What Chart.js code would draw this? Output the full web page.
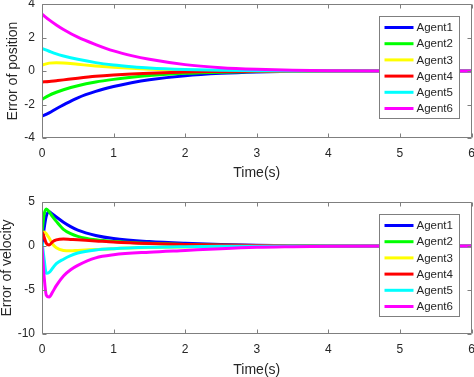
<!DOCTYPE html>
<html><head><meta charset="utf-8">
<script src="https://cdn.jsdelivr.net/npm/chart.js@4"></script>
<style>
html,body{margin:0;padding:0;background:#fff;overflow:hidden;width:474px;height:377px;}
canvas{position:absolute;left:0;}
#c1{top:0}
#c2{top:185px}
</style></head><body>
<canvas id="c1" width="474" height="188"></canvas>
<canvas id="c2" width="474" height="199"></canvas>
<script>
const agentNames = ['Agent1','Agent2','Agent3','Agent4','Agent5','Agent6'];
const agentColors = ['#0000ff','#00ff00','#ffff00','#ff0000','#00ffff','#ff00ff'];

const xTicks = [0,1,2,3,4,5,6];
const posTicks = [-4,-2,0,2,4];
const velTicks = [-10,-5,0,5];

const posTime = [0,0.1,0.2,0.3,0.5,0.75,1,1.25,1.5,2,2.5,3,3.5,4,5,6];
const posAgent1 = [-2.7,-2.5,-2.25,-2.02,-1.6,-1.22,-0.93,-0.7,-0.52,-0.28,-0.14,-0.06,-0.02,0,0,0];
const posAgent2 = [-1.7,-1.45,-1.27,-1.12,-0.88,-0.66,-0.5,-0.37,-0.27,-0.14,-0.07,-0.03,-0.01,0,0,0];
const posAgent3 = [0.35,0.47,0.5,0.48,0.4,0.3,0.22,0.16,0.11,0.05,0.02,0.01,0,0,0,0];
const posAgent4 = [-0.65,-0.63,-0.58,-0.53,-0.43,-0.32,-0.24,-0.18,-0.13,-0.06,-0.03,-0.01,0,0,0,0];
const posAgent5 = [1.35,1.18,1.02,0.9,0.7,0.5,0.36,0.26,0.18,0.09,0.04,0.02,0,0,0,0];
const posAgent6 = [3.4,3.05,2.75,2.48,2.02,1.58,1.2,0.92,0.7,0.38,0.2,0.1,0.04,0.01,0,0];

const velTime = [0,0.03,0.06,0.1,0.15,0.2,0.3,0.4,0.5,0.75,1,1.5,2,2.5,3,3.5,4,5,6];
const velAgent1 = [0,2.0,3.4,3.9,3.6,3.3,2.7,2.2,1.8,1.2,0.85,0.5,0.3,0.17,0.08,0.03,0,0,0];
const velAgent2 = [1.5,3.6,4.2,3.9,3.3,2.8,1.9,1.4,1.1,0.7,0.5,0.3,0.17,0.09,0.05,0.02,0,0,0];
const velAgent3 = [1.2,1.6,1.4,0.9,0.2,-0.2,-0.5,-0.55,-0.5,-0.4,-0.3,-0.18,-0.1,-0.06,-0.03,-0.01,0,0,0];
const velAgent4 = [1.6,1.0,0.3,0.1,0.5,0.7,0.8,0.75,0.7,0.58,0.45,0.28,0.17,0.1,0.05,0.02,0,0,0];
const velAgent5 = [0.5,-1.5,-3.1,-3.0,-2.5,-2.0,-1.5,-1.1,-0.8,-0.45,-0.3,-0.15,-0.08,-0.04,-0.02,-0.01,0,0,0];
const velAgent6 = [0,-3.5,-5.6,-5.8,-5.2,-4.5,-3.4,-2.7,-2.2,-1.35,-1.0,-0.7,-0.5,-0.3,-0.15,-0.08,-0.03,0,0];

const FONT = "'Liberation Sans', Arial, Helvetica, sans-serif";
const TEXT = '#262626';
const LINE = '#7f7f7f';

const boxPlugin = {
  id: 'matlabBox',
  afterDatasetsDraw(chart) {
    const ctx = chart.ctx, a = chart.chartArea;
    const xs = chart.scales.x, ys = chart.scales.y;
    ctx.save();
    ctx.strokeStyle = LINE; ctx.lineWidth = 1;
    ctx.beginPath();
    const L = Math.round(a.left)+0.5, R = Math.round(a.right)-0.5, T = Math.round(a.top)+0.5, B = Math.round(a.bottom)-0.5;
    ctx.rect(L, T, R-L, B-T);
    xs.ticks.forEach(t => {
      const px = Math.round(xs.getPixelForValue(t.value))+0.5;
      ctx.moveTo(px, B); ctx.lineTo(px, B-4);
      ctx.moveTo(px, T); ctx.lineTo(px, T+4);
    });
    ys.ticks.forEach(t => {
      const py = Math.round(ys.getPixelForValue(t.value))+0.5;
      ctx.moveTo(L, py); ctx.lineTo(L+4, py);
      ctx.moveTo(R, py); ctx.lineTo(R-4, py);
    });
    ctx.stroke();
    ctx.restore();
  },
  afterDraw(chart) {
    const ctx = chart.ctx, a = chart.chartArea;
    const x0 = Math.round(a.right - 93) + 0.5, y0 = Math.round(a.top + 12) + 0.5;
    const w = 80, h = 102;
    ctx.save();
    ctx.fillStyle = '#fff';
    ctx.fillRect(x0, y0, w, h);
    ctx.strokeStyle = LINE; ctx.lineWidth = 1;
    ctx.strokeRect(x0, y0, w, h);
    ctx.font = '11.5px ' + FONT;
    ctx.textBaseline = 'middle';
    ctx.textAlign = 'left';
    chart.data.datasets.forEach((ds, i) => {
      const yy = y0 + 11 + i * 16.2;
      ctx.strokeStyle = ds.borderColor; ctx.lineWidth = 3;
      ctx.beginPath(); ctx.moveTo(x0 + 5, yy); ctx.lineTo(x0 + 34, yy); ctx.stroke();
      ctx.fillStyle = TEXT;
      ctx.fillText(ds.label, x0 + 37, yy + 0.5);
    });
    ctx.restore();
  }
};

function makeDatasets(time, series) {
  return series.map((vals, i) => ({
    label: agentNames[i],
    data: time.map((t, k) => ({x: t, y: vals[k]})),
    borderColor: agentColors[i],
    backgroundColor: agentColors[i],
    borderWidth: 3,
    pointRadius: 0,
    cubicInterpolationMode: 'monotone',
    fill: false,
    order: 5 - i
  }));
}

function makeChart(id, time, series, yTicks, yTitle, padTop, yTitlePad, xTitlePad) {
  return new Chart(document.getElementById(id), {
    type: 'line',
    data: { datasets: makeDatasets(time, series) },
    options: {
      responsive: false, animation: false,
      layout: { padding: { left: 0, right: 2.5, top: padTop, bottom: 0 } },
      plugins: { legend: { display: false }, tooltip: { enabled: false } },
      scales: {
        x: {
          type: 'linear', min: xTicks[0], max: xTicks[xTicks.length-1],
          afterBuildTicks: s => { s.ticks = xTicks.map(v => ({value: v})); },
          afterFit: s => { s.height = 50; s.paddingLeft = 0; s.paddingRight = 0; },
          grid: { display: false, drawTicks: false },
          border: { display: false },
          ticks: { color: TEXT, font: { family: FONT, size: 12 }, padding: 8.5, maxRotation: 0, autoSkip: false },
          title: { display: true, text: 'Time(s)', color: TEXT, font: { family: FONT, size: 14, lineHeight: 1 }, padding: { top: 0, bottom: xTitlePad } }
        },
        y: {
          type: 'linear', min: yTicks[0], max: yTicks[yTicks.length-1],
          afterBuildTicks: s => { s.ticks = yTicks.map(v => ({value: v})); },
          afterFit: s => { s.width = 42; s.paddingTop = 0; s.paddingBottom = 0; },
          grid: { display: false, drawTicks: false },
          border: { display: false },
          ticks: { color: TEXT, font: { family: FONT, size: 12 }, padding: 7, autoSkip: false },
          title: { display: true, text: yTitle, color: TEXT, font: { family: FONT, size: 14, lineHeight: 1 }, padding: { top: yTitlePad, bottom: 0 } }
        }
      }
    },
    plugins: [boxPlugin]
  });
}

makeChart('c1', posTime, [posAgent1,posAgent2,posAgent3,posAgent4,posAgent5,posAgent6], posTicks, 'Error of position', 4, 6, 8);
makeChart('c2', velTime, [velAgent1,velAgent2,velAgent3,velAgent4,velAgent5,velAgent6], velTicks, 'Error of velocity', 17, 0, 7);
</script>
</body></html>
